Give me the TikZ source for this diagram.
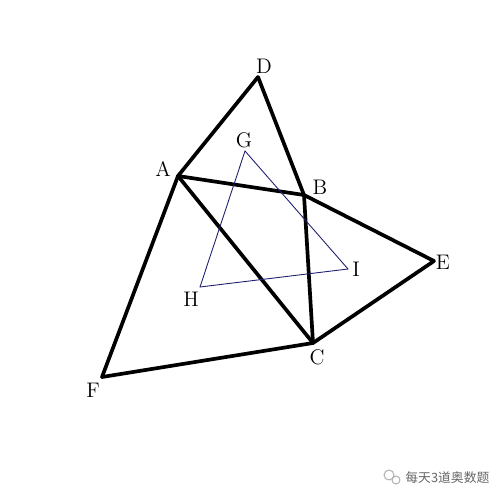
\documentclass[tikz,border=0pt]{standalone}
\usepackage{fontspec}
\newfontfamily\cjkfont{Noto Sans CJK SC}
\definecolor{thinblue}{RGB}{30,30,110}
\begin{document}
\begin{tikzpicture}[x=0.02cm, y=-0.02cm, line join=round, line cap=round]
   \useasboundingbox (0,0) rectangle (500,500);
   % vertices
   \coordinate (A) at (178,176);
   \coordinate (B) at (304,195);
   \coordinate (C) at (313,343);
   \coordinate (D) at (258,77);
   \coordinate (E) at (434,261);
   \coordinate (F) at (102,377);
   \coordinate (G) at (245,151);
   \coordinate (H) at (200,287);
   \coordinate (I) at (348,269);

   \begin{scope}[every node/.style={font=\large, inner sep=0pt}]
    \node (lA) at (163,169) {A};
    \node (lB) at (320,187) {B};
    \node (lC) at (317,357) {C};
    \node (lD) at (264,66) {D};
    \node (lE) at (443,262) {E};
    \node (lF) at (93,390) {F};
    \node (lG) at (244,140) {G};
    \node (lH) at (191,299) {H};
    \node (lI) at (356,269) {I};
   \end{scope}

   \begin{scope}[every edge/.style={draw=black, line width=2.1pt}]
    \draw (A) edge (D);
    \draw (D) edge (B);
    \draw (A) edge (B);
    \draw (A) edge (C);
    \draw (B) edge (C);
    \draw (B) edge (E);
    \draw (E) edge (C);
    \draw (A) edge (F);
    \draw (F) edge (C);
   \end{scope}
   \begin{scope}[every edge/.style={draw=thinblue, line width=0.5pt}]
    \draw (G) edge (H);
    \draw (H) edge (I);
    \draw (I) edge (G);
   \end{scope}

   % watermark
   \begin{scope}[draw=black!30, line width=0.6pt]
    \draw (389,475) circle [radius=5];
    \draw (396,480) circle [radius=4];
   \end{scope}
   \node[font=\cjkfont\fontsize{7.3}{9}\selectfont, text=black!60, anchor=west, inner sep=0pt] (mark) at (405,478) {每天3道奥数题};
\end{tikzpicture}
\end{document}
